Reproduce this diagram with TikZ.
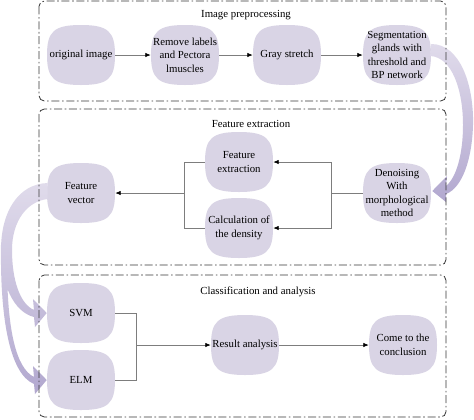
\documentclass[tikz,border=0pt]{standalone}
\usepackage{fontspec}
\setmainfont{Liberation Serif}
\usetikzlibrary{arrows.meta,calc}
\definecolor{nodefill}{RGB}{217,212,229}
\definecolor{bandlight}{RGB}{224,219,235}
\definecolor{banddark}{RGB}{178,168,207}
\definecolor{framecol}{RGB}{55,55,55}
\definecolor{linecol}{RGB}{125,125,125}
\begin{document}
\begin{tikzpicture}[x=0.75pt,y=-0.75pt,
  proc/.style={minimum width=51pt, minimum height=45pt, inner sep=1pt, align=center, font=\fontsize{8.1}{10.1}\selectfont,
    path picture={
      \path (path picture bounding box.north west) coordinate (bbnw)
            (path picture bounding box.south east) coordinate (bbse)
            (path picture bounding box.center) coordinate (bbc);
      \fill[nodefill] let \p1=(bbnw), \p2=(bbse), \p3=(bbc),
        \n1={(\x2-\x1)/2}, \n2={(\y1-\y2)/2} in
        (\x3,\y1) .. controls ({\x3+0.8*\n1},\y1) and (\x2,{\y3+0.78*\n2}) .. (\x2,\y3)
        .. controls (\x2,{\y3-0.78*\n2}) and ({\x3+0.8*\n1},\y2) .. (\x3,\y2)
        .. controls ({\x3-0.8*\n1},\y2) and (\x1,{\y3-0.78*\n2}) .. (\x1,\y3)
        .. controls (\x1,{\y3+0.78*\n2}) and ({\x3-0.8*\n1},\y1) .. (\x3,\y1) -- cycle;
    }},
  title/.style={font=\fontsize{8.1}{10.1}\selectfont, inner sep=0pt},
  frame/.style={draw=framecol, line width=0.6pt, rounded corners=4pt, dash pattern=on 6pt off 2pt on 1.2pt off 2pt},
  conn/.style={draw=linecol, line width=0.5pt},
  arr/.style={conn, -{Latex[length=4pt,width=3.2pt,color=black]}},
  band/.style={top color=bandlight, bottom color=banddark, draw=none}]
\useasboundingbox (0,0) rectangle (474,419);
\fill[white] (0,0) rectangle (474,419);

% nodes
\node[proc] (orig) at (81,55) {original image};
\node[proc] (remove) at (185,55) {Remove labels\\and Pectora\\lmuscles};
\node[proc] (gray) at (287,55) {Gray stretch};
\node[proc] (seg) at (397,55) {Segmentation\\glands with\\threshold and\\BP network};

\node[proc] (featvec) at (81,193) {Feature\\vector};
\node[proc] (featext) at (239,162) {Feature\\extraction};
\node[proc] (calc) at (239,228) {Calculation of\\the density};
\node[proc] (denoise) at (397,193) {Denoising\\With\\morphological\\method};

\node[proc] (svm) at (81,313) {SVM};
\node[proc] (elm) at (81,380) {ELM};
\node[proc] (result) at (245,345) {Result analysis};
\node[proc] (concl) at (403,345) {Come to the\\conclusion};

% bands
\shade[band] ($(seg.east)+(0,-11)$) .. controls (460,44) and (474,85) .. (473,125)
  .. controls (472,160) and (462,188) .. (446,194) -- (446,202) -- ($(denoise.east)+(1,-2)$)
  -- (447,176) -- (446,186) .. controls (456,178) and (463,155) .. (463,125)
  .. controls (463,90) and (452,57) .. ($(seg.east)+(-1,1)$) -- cycle;

\shade[band] ($(featvec.west)+(1,-10)$) .. controls (18,184) and (1,212) .. (1,250)
  .. controls (1,285) and (14,312) .. (34,317) -- (35,327) -- (svm.west)
  -- (33,299) -- (34,310) .. controls (20,304) and (12,280) .. (12,250)
  .. controls (12,220) and (28,201) .. ($(featvec.west)+(1,6)$) -- cycle
  (1,245) .. controls (0,320) and (10,374) .. (34,384) -- (35,394) -- (elm.west)
  -- (33,366) -- (34,377) .. controls (16,368) and (7,330) .. (7,262) -- cycle;

% frames
\draw[frame] (39,1) rectangle (446,101);
\draw[frame] (39,109) rectangle (446,265);
\draw[frame] (39,275) rectangle (446,417);

\node[title] (t1) at (246,15) {Image preprocessing};
\node[title] (t2) at (251,124) {Feature extraction};
\node[title] (t3) at (258,292) {Classification and analysis};

% connectors row 1
\draw[arr] (orig) -- (remove);
\draw[arr] (remove) -- (gray);
\draw[arr] (gray) -- (seg);

% row 2
\coordinate (dj) at (331,193);
\coordinate (fj) at (184,193);
\draw[conn] (denoise.west) -- (dj);
\draw[arr] (dj) |- (featext.east);
\draw[arr] (dj) |- (calc.east);
\draw[conn] (featext.west) -| (fj);
\draw[conn] (calc.west) -| (fj);
\draw[arr] (fj) -- (featvec.east);

% row 3
\coordinate (cj) at (136,345);
\draw[conn] (svm.east) -| (cj);
\draw[conn] (elm.east) -| (cj);
\draw[arr] (cj) -- (result.west);
\draw[arr] (result) -- (concl);
\end{tikzpicture}
\end{document}
